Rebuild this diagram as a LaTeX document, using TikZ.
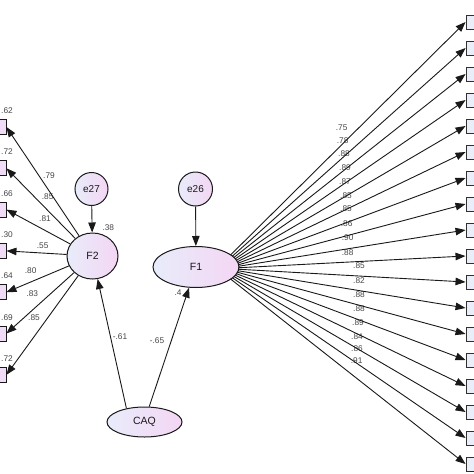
\documentclass[tikz,border=0pt]{standalone}
\usepackage{fontspec}
\setmainfont{Liberation Sans}
\usetikzlibrary{arrows.meta,shapes.geometric,calc}
\definecolor{pinkend}{RGB}{244,214,244}
\definecolor{blueend}{RGB}{232,236,250}
\definecolor{lav}{RGB}{240,220,246}
\definecolor{rfill}{RGB}{234,238,248}
\definecolor{lbl}{RGB}{70,70,70}
\definecolor{ink}{RGB}{25,25,25}
\begin{document}
\begin{tikzpicture}[x=1pt,y=-1pt,
  lat/.style={ellipse, draw=ink, line width=1pt, left color=blueend, right color=pinkend, font=\fontsize{10.5}{12}\selectfont, text=ink, inner sep=0pt},
  err/.style={circle, draw=ink, line width=1pt, left color=blueend, right color=pinkend, font=\fontsize{10}{12}\selectfont, text=ink, inner sep=0pt},
  lbox/.style={rectangle, draw=ink, line width=0.9pt, fill=lav, minimum width=18pt, minimum height=15pt, inner sep=0pt},
  rbox/.style={rectangle, draw=ink!90, line width=0.9pt, fill=rfill, minimum width=24pt, minimum height=14pt, inner sep=0pt},
  arr/.style={-{Triangle[length=10pt,width=7.5pt]}, line width=0.9pt, draw=ink},
  lab/.style={font=\fontsize{8.3}{9}\selectfont, text=lbl, inner sep=0pt}]
\useasboundingbox (0,0) rectangle (474,474);
\fill[white] (0,0) rectangle (474,474);

% latent variables
\node[lat, minimum width=51pt, minimum height=46pt] (F2) at (92.5,256) {F2};
\node[lat, minimum width=86pt, minimum height=41pt] (F1) at (196,267) {F1};
\node[lat, minimum width=75pt, minimum height=30pt] (CAQ) at (144.5,422) {CAQ};
\node[err, minimum size=33pt] (e27) at (91.5,189) {e27};
\node[err, minimum size=34pt] (e26) at (195.5,189) {e26};

% left indicator boxes
\foreach \i in {0,...,6} {
  \node[lbox] (lb\i) at (-3,127+41.3*\i) {};
}
% right indicator boxes
\foreach \i in {0,...,17} {
  \node[rbox] (rb\i) at (478,22+26*\i) {};
}

% labels (drawn before arrows)
\node[lab] at (108.3,227.7) {.38};
\node[lab] at (178,292.7) {.4};
\node[lab] at (120,337) {-.61};
\node[lab] at (157,340.7) {-.65};

\foreach \t/\x/\y in {.62/7/111,.72/7/152,.66/7/194,.30/7/235,.64/7/276,.69/7/318,.72/7/359}
  \node[lab] at (\x,\y) {\t};
\foreach \t/\x/\y in {.79/49/176,.85/47.7/197,.81/45/219,.55/42.7/245.5,.80/30.7/271,.83/32.3/294,.85/34/317.7}
  \node[lab] at (\x,\y) {\t};
\foreach \t/\x/\y in {.75/341.7/127.7,.78/342.7/140.7,.88/344/154,.89/345/168,.87/345/182,.85/346/196,.85/346/209,.86/346.7/224,.90/347.7/238,.88/347.7/252.7,.85/359/266,.82/359/280.7,.88/359/295,.88/359/309,.89/358/322.7,.84/357/336.7,.86/357/348.5,.91/356.7/360.7}
  \node[lab] at (\x,\y) {\t};

% arrows
\draw[arr] (e27) -- (F2);
\draw[arr] (e26) -- (F1);
\draw[arr] (CAQ.143) -- (F2);
\draw[arr] (CAQ.73) -- (F1);
\foreach \i in {0,...,6} {
  \draw[arr] (F2) -- (lb\i.east);
}
\foreach \i in {0,...,17} {
  \pgfmathsetmacro{\ang}{36-72*\i/17}
  \coordinate (s\i) at ($(F1.center)+({42.5*cos(\ang)},{-20.2*sin(\ang)})$);
  \draw[arr] (s\i) -- (rb\i.west);
}
\end{tikzpicture}
\end{document}
